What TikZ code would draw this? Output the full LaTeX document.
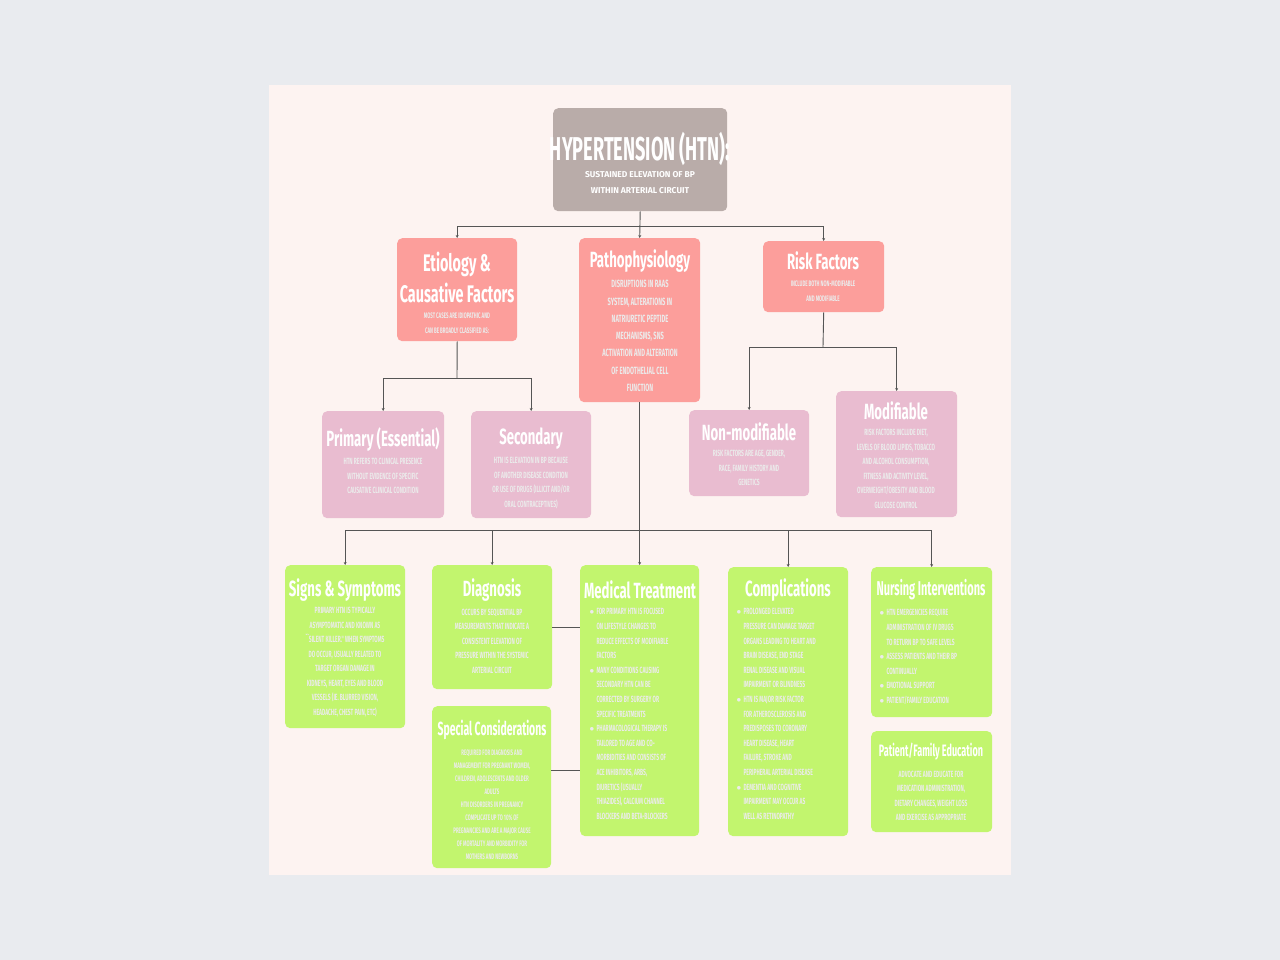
\documentclass[tikz,border=0pt]{standalone}
\usepackage{fontspec}
\setmainfont{Fira Sans}
\newfontfamily\cond[FakeStretch=0.6]{Fira Sans}
\newfontfamily\condb[FakeStretch=0.55]{Fira Sans}
\usetikzlibrary{arrows.meta}
\definecolor{bgc}{HTML}{E9EBEF}
\definecolor{panel}{HTML}{FDF3F1}
\definecolor{greyb}{HTML}{B9ACA9}
\definecolor{salmon}{HTML}{FC9E9B}
\definecolor{mauve}{HTML}{E9BCD0}
\definecolor{lime}{HTML}{C2F56E}
\definecolor{linec}{HTML}{555555}
\begin{document}
\begin{tikzpicture}[x=1pt,y=-1pt,
  box/.style={rounded corners=5pt,inner sep=0pt},
  ttl/.style={text=white,font=\cond\bfseries\fontsize{22}{23}\selectfont,align=center},
  bdy/.style={text=white!92!black,font=\condb\bfseries\fontsize{9}{14.5}\selectfont,align=center},
  lst/.style={text=white!92!black,font=\condb\bfseries\fontsize{9}{14.6}\selectfont,align=left},
  ln/.style={draw=linec,line width=0.9pt},
  ar/.style={ln,-{Stealth[length=3pt,width=3pt]}}]
\fill[bgc] (0,0) rectangle (1280,960);
\fill[panel] (269,85) rectangle (1011,875);
\newcommand\bx[6]{\node[box,fill=#6,minimum width=#3-#1,minimum height=#4-#2,anchor=north west] (#5) at (#1,#2) {};}
\bx{553}{108}{727}{211}{top}{greyb}
\bx{397}{238}{517}{341}{eti}{salmon}
\bx{579}{238}{700}{402}{pat}{salmon}
\bx{763}{241}{884}{312}{risk}{salmon}
\bx{322}{411}{444}{518}{prim}{mauve}
\bx{471}{411}{591}{518}{sec}{mauve}
\bx{689}{410}{809}{496}{nonm}{mauve}
\bx{836}{391}{957}{517}{modi}{mauve}
\bx{285}{565}{405}{728}{sig}{lime}
\bx{432}{565}{552}{689}{dia}{lime}
\bx{432}{706}{551}{868}{spe}{lime}
\bx{580}{565}{699}{836}{med}{lime}
\bx{728}{567}{848}{836}{com}{lime}
\bx{871}{567}{992}{717}{nur}{lime}
\bx{871}{731}{992}{832}{pfe}{lime}
% texts
\node[ttl,font=\condb\bfseries\fontsize{33}{34}\selectfont] at (640,149) {HYPERTENSION (HTN):};
\node[text=white,font=\bfseries\fontsize{8.5}{16}\selectfont,align=center] at (640,183) {SUSTAINED ELEVATION OF BP\\WITHIN ARTERIAL CIRCUIT};
\node[ttl,font=\cond\bfseries\fontsize{24}{31}\selectfont] at (457,277) {Etiology \&\\Causative Factors};
\node[bdy,font=\condb\bfseries\fontsize{8}{15}\selectfont] at (457,323) {MOST CASES ARE IDIOPATHIC AND\\CAN BE BROADLY CLASSIFIED AS:};
\node[ttl] at (640,261) {Pathophysiology};
\node[bdy,font=\condb\bfseries\fontsize{10.5}{17.3}\selectfont] at (640,336) {DISRUPTIONS IN RAAS\\SYSTEM, ALTERATIONS IN\\NATRIURETIC PEPTIDE\\MECHANISMS, SNS\\ACTIVATION AND ALTERATION\\OF ENDOTHELIAL CELL\\FUNCTION};
\node[ttl] at (823,261) {Risk Factors};
\node[bdy,font=\condb\bfseries\fontsize{8}{15}\selectfont] at (823,291) {INCLUDE BOTH NON-MODIFIABLE\\AND MODIFIABLE};
\node[ttl] at (383,439) {Primary (Essential)};
\node[bdy] at (383,476) {HTN REFERS TO CLINICAL PRESENCE\\WITHOUT EVIDENCE OF SPECIFIC\\CAUSATIVE CLINICAL CONDITION};
\node[ttl] at (531,439) {Secondary};
\node[bdy] at (531,483) {HTN IS ELEVATION IN BP BECAUSE\\OF ANOTHER DISEASE CONDITION\\OR USE OF DRUGS (ILLICIT AND/OR\\ORAL CONTRACEPTIVES)};
\node[ttl] at (749,432) {Non-modifiable};
\node[bdy] at (749,468) {RISK FACTORS ARE AGE, GENDER,\\RACE, FAMILY HISTORY AND\\GENETICS};
\node[ttl] at (896,411) {Modifiable};
\node[bdy] at (896,469) {RISK FACTORS INCLUDE DIET,\\LEVELS OF BLOOD LIPIDS, TOBACCO\\AND ALCOHOL CONSUMPTION,\\FITNESS AND ACTIVITY LEVEL,\\OVERWEIGHT/OBESITY AND BLOOD\\GLUCOSE CONTROL};
\node[ttl] at (345,590) {Signs \& Symptoms};
\node[bdy] at (345,662) {PRIMARY HTN IS TYPICALLY\\ASYMPTOMATIC AND KNOWN AS\\``SILENT KILLER.'' WHEN SYMPTOMS\\DO OCCUR, USUALLY RELATED TO\\TARGET ORGAN DAMAGE IN\\KIDNEYS, HEART, EYES AND BLOOD\\VESSELS (IE. BLURRED VISION,\\HEADACHE, CHEST PAIN, ETC)};
\node[ttl] at (492,590) {Diagnosis};
\node[bdy] at (492,641) {OCCURS BY SEQUENTIAL BP\\MEASUREMENTS THAT INDICATE A\\CONSISTENT ELEVATION OF\\PRESSURE WITHIN THE SYSTEMIC\\ARTERIAL CIRCUIT};
\node[ttl,font=\condb\bfseries\fontsize{19}{20}\selectfont] at (492,730) {Special Considerations};
\node[bdy,font=\condb\bfseries\fontsize{8}{13}\selectfont] at (492,805) {REQUIRED FOR DIAGNOSIS AND\\MANAGEMENT FOR PREGNANT WOMEN,\\CHILDREN, ADOLESCENTS AND OLDER\\ADULTS\\HTN DISORDERS IN PREGNANCY\\COMPLICATE UP TO 10\% OF\\PREGNANCIES AND ARE A MAJOR CAUSE\\OF MORTALITY AND MORBIDITY FOR\\MOTHERS AND NEWBORNS};
\node[ttl] at (640,590) {Medical Treatment};
\node[lst,anchor=north west] at (586,605) {$\bullet$\ \ FOR PRIMARY HTN IS FOCUSED\\\phantom{$\bullet$\ \ }ON LIFESTYLE CHANGES TO\\\phantom{$\bullet$\ \ }REDUCE EFFECTS OF MODIFIABLE\\\phantom{$\bullet$\ \ }FACTORS\\$\bullet$\ \ MANY CONDITIONS CAUSING\\\phantom{$\bullet$\ \ }SECONDARY HTN CAN BE\\\phantom{$\bullet$\ \ }CORRECTED BY SURGERY OR\\\phantom{$\bullet$\ \ }SPECIFIC TREATMENTS\\$\bullet$\ \ PHARMACOLOGICAL THERAPY IS\\\phantom{$\bullet$\ \ }TAILORED TO AGE AND CO-\\\phantom{$\bullet$\ \ }MORBIDITIES AND CONSISTS OF\\\phantom{$\bullet$\ \ }ACE INHIBITORS, ARBS,\\\phantom{$\bullet$\ \ }DIURETICS (USUALLY\\\phantom{$\bullet$\ \ }THIAZIDES), CALCIUM CHANNEL\\\phantom{$\bullet$\ \ }BLOCKERS AND BETA-BLOCKERS};
\node[ttl] at (788,590) {Complications};
\node[lst,anchor=north west] at (733,605) {$\bullet$\ \ PROLONGED ELEVATED\\\phantom{$\bullet$\ \ }PRESSURE CAN DAMAGE TARGET\\\phantom{$\bullet$\ \ }ORGANS LEADING TO HEART AND\\\phantom{$\bullet$\ \ }BRAIN DISEASE, END STAGE\\\phantom{$\bullet$\ \ }RENAL DISEASE AND VISUAL\\\phantom{$\bullet$\ \ }IMPAIRMENT OR BLINDNESS\\$\bullet$\ \ HTN IS MAJOR RISK FACTOR\\\phantom{$\bullet$\ \ }FOR ATHEROSCLEROSIS AND\\\phantom{$\bullet$\ \ }PREDISPOSES TO CORONARY\\\phantom{$\bullet$\ \ }HEART DISEASE, HEART\\\phantom{$\bullet$\ \ }FAILURE, STROKE AND\\\phantom{$\bullet$\ \ }PERIPHERAL ARTERIAL DISEASE\\$\bullet$\ \ DEMENTIA AND COGNITIVE\\\phantom{$\bullet$\ \ }IMPAIRMENT MAY OCCUR AS\\\phantom{$\bullet$\ \ }WELL AS RETINOPATHY};
\node[ttl,font=\condb\bfseries\fontsize{20}{21}\selectfont] at (931,590) {Nursing Interventions};
\node[lst,anchor=north west] at (876,606) {$\bullet$\ \ HTN EMERGENCIES REQUIRE\\\phantom{$\bullet$\ \ }ADMINISTRATION OF IV DRUGS\\\phantom{$\bullet$\ \ }TO RETURN BP TO SAFE LEVELS\\$\bullet$\ \ ASSESS PATIENTS AND THEIR BP\\\phantom{$\bullet$\ \ }CONTINUALLY\\$\bullet$\ \ EMOTIONAL SUPPORT\\$\bullet$\ \ PATIENT/FAMILY EDUCATION};
\node[ttl,font=\condb\bfseries\fontsize{16.5}{17}\selectfont] at (931,752) {Patient/Family Education};
\node[bdy] at (931,796) {ADVOCATE AND EDUCATE FOR\\MEDICATION ADMINISTRATION,\\DIETARY CHANGES, WEIGHT LOSS\\AND EXERCISE AS APPROPRIATE};
% connectors
\coordinate (j1) at (640,226);
\draw[ar] (top.south) -- (pat.north);
\draw[ar] (j1) -| (eti.north);
\draw[ar] (j1) -| (risk.north);
\coordinate (j2) at (457,378);
\draw[ln] (eti.south) -- (j2);
\draw[ar] (j2) -| (prim.north);
\draw[ar] (j2) -| (sec.north);
\coordinate (j3) at (823,347);
\draw[ln] (risk.south) -- (j3);
\draw[ar] (j3) -| (nonm.north);
\draw[ar] (j3) -| (modi.north);
\coordinate (j4) at (640,530);
\draw[ar] (pat.south) -- (med.north);
\draw[ar] (j4) -| (sig.north);
\draw[ar] (j4) -| (dia.north);
\draw[ar] (j4) -| (com.north);
\draw[ar] (j4) -| (nur.north);
\draw[ln] (dia.east |- 0,627) -- (med.west |- 0,627);
\draw[ln] (spe.east |- 0,770) -- (med.west |- 0,770);
\end{tikzpicture}
\end{document}
